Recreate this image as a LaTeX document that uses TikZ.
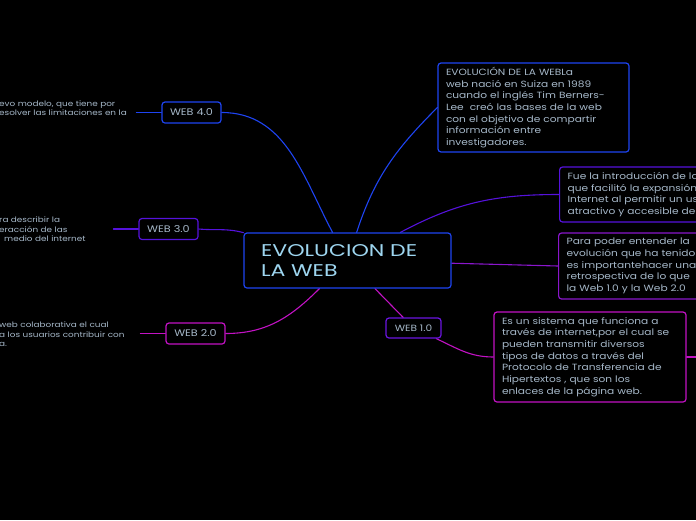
\documentclass[tikz,border=0pt]{standalone}
\usepackage{fontspec}
\setmainfont{Poppins}[FakeStretch=1.18]
\newfontfamily\titlefont{Poppins}[FakeStretch=1.3]
\usepackage{tikz}
\usetikzlibrary{positioning}
\usetikzlibrary{backgrounds}
\definecolor{mapblue}{HTML}{1E44F2}
\definecolor{mapindigo}{HTML}{5512DC}
\definecolor{mapviolet}{HTML}{6A14E0}
\definecolor{mappurple}{HTML}{8A16CC}
\definecolor{mapmagenta}{HTML}{C212C4}
\definecolor{maptext}{HTML}{A6B8C9}
\definecolor{maptitle}{HTML}{9ED6F0}
\tikzstyle{map edge}=[line width=1.1pt,line cap=round]
\tikzstyle{topic}=[draw,line width=1.2pt,rounded corners=3pt,fill=black,text=maptext,align=left,
  font=\fontsize{9}{11.7}\selectfont,inner xsep=8pt,inner ysep=2pt]
\tikzstyle{root topic}=[topic,draw=mapblue,minimum width=207pt,minimum height=55pt,text width=173pt,
  inner xsep=17pt,text=maptitle,font=\titlefont\fontsize{17}{20.5}\selectfont]
\tikzstyle{web topic}=[topic,align=center,inner xsep=0pt,minimum width=59pt,minimum height=21pt,
  font=\fontsize{9.5}{11}\selectfont]
\tikzstyle{note}=[inner sep=0pt,text=maptext,align=left,font=\fontsize{7.5}{9.5}\selectfont]
\newcommand{\topicnode}[3][]{
  \node [topic, #1] (#2) {#3}
}
\newcommand{\webnode}[3][]{
  \node [web topic, #1] (#2) {#3}
}

\begin{document}
\begin{tikzpicture}[x=1pt,y=1pt]
        \useasboundingbox (0,0) rectangle (696,-520);
        \begin{scope}[on background layer]
          \fill[black] (0,0) rectangle (696,-520);
        \end{scope}

        \node [root topic] (root) at (347.5,-260.5) {EVOLUCION DE\\LA WEB};

        \webnode[draw=mapblue, at={(191.5,-112.5)}]{w4}{WEB 4.0};
        \webnode[draw=mapindigo, at={(168.5,-229)}]{w3}{WEB 3.0};
        \webnode[draw=mapmagenta, at={(195.5,-333.5)}]{w2}{WEB 2.0};
        \webnode[draw=mapviolet, minimum width=55pt, minimum height=20pt, font=\fontsize{9}{11}\selectfont, at={(413.5,-328)}]{w1}{WEB 1.0};

        \node [note, text width=137pt, left=25pt of w4, yshift=4.5pt] (t4) {evo modelo, que tiene por\\esolver las limitaciones en la};
        \node [note, text width=114pt, left=25pt of w3, yshift=-0.5pt] (t3) {ra describir la\\eracción de las\\\hspace*{5pt}medio del internet};
        \node [note, text width=141pt, left=25pt of w2, yshift=-1pt] (t2) {web colaborativa el cual\\a los usuarios contribuir con\\a.};

        \topicnode[draw=mapblue, text width=175pt, minimum height=89pt, at={(533.5,-107.5)}]{d0}{EVOLUCIÓN DE LA WEBLa\\web nació en Suiza en 1989\\cuando el inglés Tim Berners-\\Lee\ \ creó las bases de la web\\con el objetivo de compartir\\información entre\\investigadores.};
        \topicnode[draw=mapindigo, text width=160pt, minimum height=55pt, anchor=west, at={(559,-194.5)}]{d1}{Fue la introducción de la\\que facilitó la expansión\\Internet al permitir un us\\atractivo y accesible de};
        \topicnode[draw=mappurple, text width=160pt, minimum height=66pt, anchor=west, at={(558,-266)}]{d2}{Para poder entender la\\evolución que ha tenido\\es importantehacer una\\retrospectiva de lo que\\la Web 1.0 y la Web 2.0};
        \topicnode[draw=mapmagenta, text width=176pt, minimum height=90pt, at={(590,-357)}]{d3}{Es un sistema que funciona a\\través de internet,por el cual se\\pueden transmitir diversos\\tipos de datos a través del\\Protocolo de Transferencia de\\Hipertextos , que son los\\enlaces de la página web.};
        \coordinate (d3out) at (716,-357);

        \begin{scope}[on background layer]
          \draw[map edge, mapblue] (root) to[out=118,in=0] (w4.east);
          \draw[map edge, mapblue] (root) to[out=72,in=225] (d0.west);
          \draw[map edge, mapindigo] (root) to[out=28,in=180] (d1.west);
          \draw[map edge, mappurple] (root) -- (d2.west);
          \draw[map edge, mapindigo] (root) to[out=165,in=-5] (w3.east);
          \draw[map edge, mapmagenta] (root) to[out=225,in=0] (w2.east);
          \draw[map edge, mapmagenta] (root) -- (w1);
          \draw[map edge, mapmagenta] (w1) to[out=-25,in=180] (d3.west);
          \draw[map edge, mapmagenta] (d3) -- (d3out);

          \draw[map edge, mapblue] (w4) -- (w4 -| t4.east);
          \draw[map edge, mapindigo] (w3) -- (w3 -| t3.east);
          \draw[map edge, mapmagenta] (w2) -- (w2 -| t2.east);
        \end{scope}
\end{tikzpicture}
\end{document}
